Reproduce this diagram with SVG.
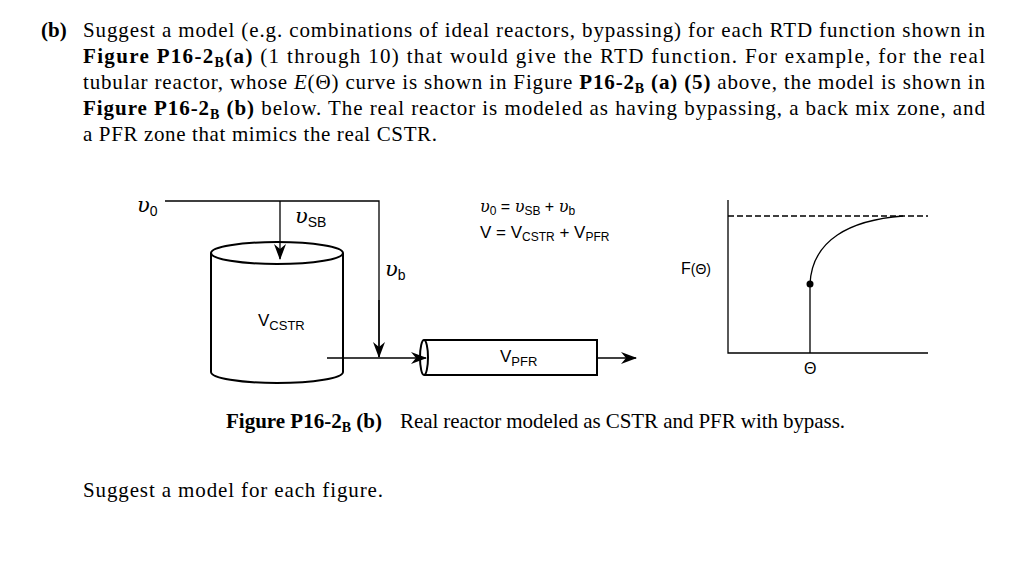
<svg xmlns="http://www.w3.org/2000/svg" width="1024" height="572" viewBox="0 0 1024 572">
<style>
.t{font-family:"Liberation Serif",serif;font-size:21px;fill:#000}
.s{font-family:"Liberation Sans",sans-serif;fill:#000}
.v{font-family:"DejaVu Serif","Liberation Serif",serif;font-style:italic}
.ln{stroke:#000;stroke-width:1.3;fill:none}
.th{stroke:#000;stroke-width:2;fill:none}
</style>
<defs><marker id="a" markerWidth="16" markerHeight="12" refX="15" refY="6" orient="auto" markerUnits="userSpaceOnUse"><path d="M0,0 L16,6 L0,12 L5,6z" fill="#000"/></marker></defs>
<rect width="1024" height="572" fill="#fff"/>
<g id="text">
<text class="t" x="41" y="37" font-weight="bold">(b)</text>
<text class="t" x="83" y="37" textLength="902" lengthAdjust="spacing">Suggest a model (e.g. combinations of ideal reactors, bypassing) for each RTD function shown in</text>
<text class="t" x="83" y="63" textLength="902" lengthAdjust="spacing"><tspan font-weight="bold">Figure P16-2<tspan style="font-size:14px" dy="4">B</tspan><tspan dy="-4">(a)</tspan></tspan> (1 through 10) that would give the RTD function. For example, for the real</text>
<text class="t" x="83" y="89" textLength="902" lengthAdjust="spacing">tubular reactor, whose <tspan font-style="italic">E</tspan>(Θ) curve is shown in Figure <tspan font-weight="bold">P16-2<tspan style="font-size:14px" dy="4">B</tspan><tspan dy="-4"> (a) (5)</tspan></tspan> above, the model is shown in</text>
<text class="t" x="83" y="115" textLength="902" lengthAdjust="spacing"><tspan font-weight="bold">Figure P16-2<tspan style="font-size:14px" dy="4">B</tspan><tspan dy="-4"> (b)</tspan></tspan> below. The real reactor is modeled as having bypassing, a back mix zone, and</text>
<text class="t" x="83" y="141" textLength="354" lengthAdjust="spacing">a PFR zone that mimics the real CSTR.</text>
<text class="t" x="226" y="428" font-weight="bold">Figure P16-2<tspan style="font-size:14px" dy="4">B</tspan><tspan dy="-4"> (b)</tspan></text>
<text class="t" x="400" y="428" textLength="445" lengthAdjust="spacing">Real reactor modeled as CSTR and PFR with bypass.</text>
<text class="t" x="83" y="497" textLength="300" lengthAdjust="spacing">Suggest a model for each figure.</text>
</g>
<g id="connectors">
<path class="ln" d="M165,201 H379 V357"/>
<path class="ln" d="M280,201 V259" marker-end="url(#a)"/>
<path class="ln" d="M379,300 V357" marker-end="url(#a)"/>
<path class="ln" d="M327,358 H426" marker-end="url(#a)"/>
<path class="ln" d="M597,358 H636" marker-end="url(#a)"/>
</g>
<g id="cstr">
<ellipse class="th" cx="277" cy="253" rx="66" ry="11"/>
<path class="th" d="M211,253 V372 A66,11 0 0 0 343,372 V253"/>
<text class="s" style="font-size:17px" x="258" y="326">V<tspan style="font-size:13px" dy="4">CSTR</tspan></text>
</g>
<g id="pfr">
<path class="th" d="M424,340 H597 V375 H424"/>
<ellipse class="th" cx="424" cy="357.5" rx="4" ry="17.5"/>
<text class="s" style="font-size:17px" x="500" y="362">V<tspan style="font-size:13px" dy="4">PFR</tspan></text>
</g>
<g id="labels">
<text x="137" y="212"><tspan class="v" style="font-size:21px">υ</tspan><tspan class="s" style="font-size:14px" dy="4">0</tspan></text>
<text x="295" y="223"><tspan class="v" style="font-size:21px">υ</tspan><tspan class="s" style="font-size:14px" dy="4">SB</tspan></text>
<text x="385" y="276"><tspan class="v" style="font-size:21px">υ</tspan><tspan class="s" style="font-size:14px" dy="4">b</tspan></text>
<text x="480" y="212"><tspan class="v" style="font-size:16px">υ</tspan><tspan class="s" style="font-size:12px" dy="3">0</tspan><tspan class="s" style="font-size:16px" dy="-3"> = </tspan><tspan class="v" style="font-size:16px">υ</tspan><tspan class="s" style="font-size:12px" dy="3">SB</tspan><tspan class="s" style="font-size:16px" dy="-3"> + </tspan><tspan class="v" style="font-size:16px">υ</tspan><tspan class="s" style="font-size:12px" dy="3">b</tspan></text>
<text class="s" style="font-size:17px" x="480" y="238">V = V<tspan style="font-size:12px" dy="3">CSTR</tspan><tspan dy="-3"> + V</tspan><tspan style="font-size:12px" dy="3">PFR</tspan></text>
</g>
<g id="graph">
<path class="ln" d="M728,200 V353 H928"/>
<path class="ln" stroke-dasharray="6,3" d="M728,216 H928"/>
<path class="ln" d="M810,353 V284 C812,240 850,220 903,216"/>
<circle cx="810" cy="284" r="3.5" fill="#000"/>
<text class="s" style="font-size:16px" x="681" y="274">F<tspan style="font-size:14px">(Θ)</tspan></text>
<text class="s" style="font-size:16px" x="804" y="374">Θ</text>
</g>
</svg>
